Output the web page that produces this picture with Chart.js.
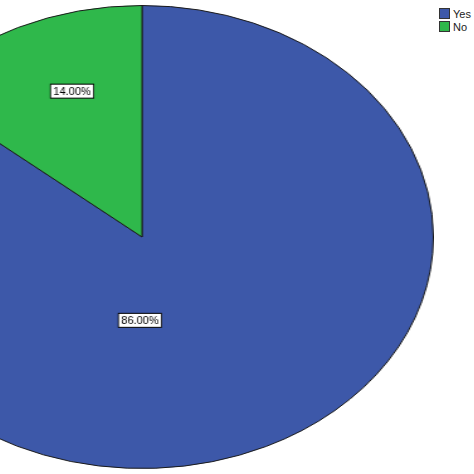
<!DOCTYPE html>
<html><head><meta charset="utf-8">
<script src="https://cdn.jsdelivr.net/npm/chart.js@4"></script>
<style>
body{margin:0;width:474px;height:474px;overflow:hidden;background:#fff;position:relative;font-family:"Liberation Sans",Arial,sans-serif}
#wrap{position:absolute;left:-90px;top:5px;width:464px;height:464px;transform:scaleX(1.2586);transform-origin:232px 232px}
#leg{position:absolute;left:439px;top:8px;font-size:11px;line-height:13px;color:#222}
#leg span{display:inline-block;width:9px;height:9px;border:1px solid #333;margin-right:3px;vertical-align:-1px}
</style></head><body>
<div id="wrap"><canvas id="c" width="464" height="464"></canvas></div>
<div id="leg"></div>
<script>
const categories=["Yes","No"];
const values=[86,14];
const labels=["86.00%","14.00%"];
const colors=["#3d58a9","#2fb84b"];
document.getElementById('leg').innerHTML=categories.map((c,i)=>`<div><span style="background:${colors[i]}"></span>${c}</div>`).join('');
const S=1.2586;
const lbl={id:'lbl',afterDatasetsDraw(ch){
 const ctx=ch.ctx;const arcs=ch.getDatasetMeta(0).data;
 const offs=[[-0.007,0.36],[-0.24,-0.63]];
 arcs.forEach((a,i)=>{
  const r=a.outerRadius;const x=a.x+offs[i][0]*r,y=a.y+offs[i][1]*r;
  ctx.save();ctx.translate(x,y);ctx.scale(1/S,1);
  ctx.font='11px "Liberation Sans", Arial';const t=labels[i];const w=ctx.measureText(t).width+6;
  ctx.fillStyle='#fff';ctx.fillRect(-w/2,-7,w,14);ctx.strokeStyle='#000';ctx.lineWidth=1;ctx.strokeRect(-w/2,-7,w,14);
  ctx.fillStyle='#000';ctx.textAlign='center';ctx.textBaseline='middle';ctx.fillText(t,0,0.5);ctx.restore();});
}};
new Chart(document.getElementById('c'),{type:'pie',
 data:{labels:categories,datasets:[{data:values,backgroundColor:colors,borderColor:'#1a1a1a',borderWidth:1}]},
 options:{responsive:false,animation:false,layout:{padding:0},plugins:{legend:{display:false},tooltip:{enabled:false}}},
 plugins:[lbl]});
</script></body></html>
